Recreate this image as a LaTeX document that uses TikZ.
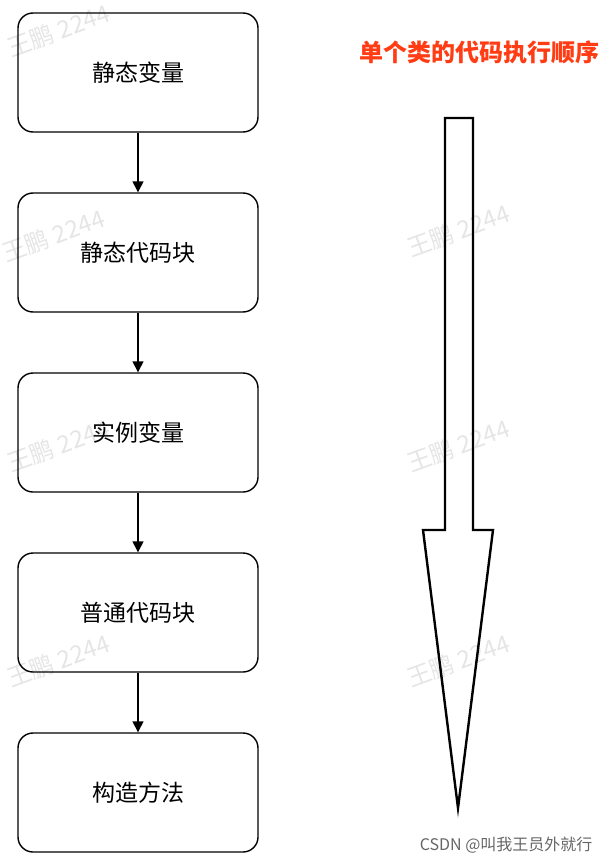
\documentclass[tikz,border=0pt]{standalone}
\usepackage{fontspec}
\newfontfamily\cjk{Noto Sans CJK SC}
\usetikzlibrary{arrows.meta}
\begin{document}
\begin{tikzpicture}[x=1pt,y=-1pt,
  box/.style={draw,line width=1.4pt,rounded corners=15pt,minimum width=240pt,minimum height=119pt,font=\cjk\fontsize{23}{27}\selectfont},
  conn/.style={line width=1.4pt,-{Triangle[length=11pt,width=11pt]}},
  wm/.style={font=\cjk\fontsize{24}{28}\selectfont,text=black!10,rotate=20,anchor=west}]
\useasboundingbox (0,0) rectangle (609,864);
\foreach \x/\y in {5/50,0/255,5/465,5/680,405/250,405/465,405/680}
  \node[wm] at (\x,\y) {王鹏 2244};
\node[box] (a) at (138,72.5) {静态变量};
\node[box] (b) at (138,252.5) {静态代码块};
\node[box] (c) at (138,432.5) {实例变量};
\node[box] (d) at (138,612.5) {普通代码块};
\node[box] (e) at (138,792.5) {构造方法};
\draw[conn] (a) -- (b);
\draw[conn] (b) -- (c);
\draw[conn] (c) -- (d);
\draw[conn] (d) -- (e);
\node[font=\cjk\bfseries\fontsize{24}{28}\selectfont,text={rgb,255:red,255;green,60;blue,20}] (t) at (479,52) {单个类的代码执行顺序};
\draw[line width=2.4pt,line join=miter] (445,118) -- (473,118) -- (473,530) -- (493,530) -- (458,808) -- (423,530) -- (445,530) -- cycle;
\node[font=\cjk\fontsize{16}{19}\selectfont,text=black!60,anchor=east] (s) at (596,845) {CSDN @叫我王员外就行};
\end{tikzpicture}
\end{document}
